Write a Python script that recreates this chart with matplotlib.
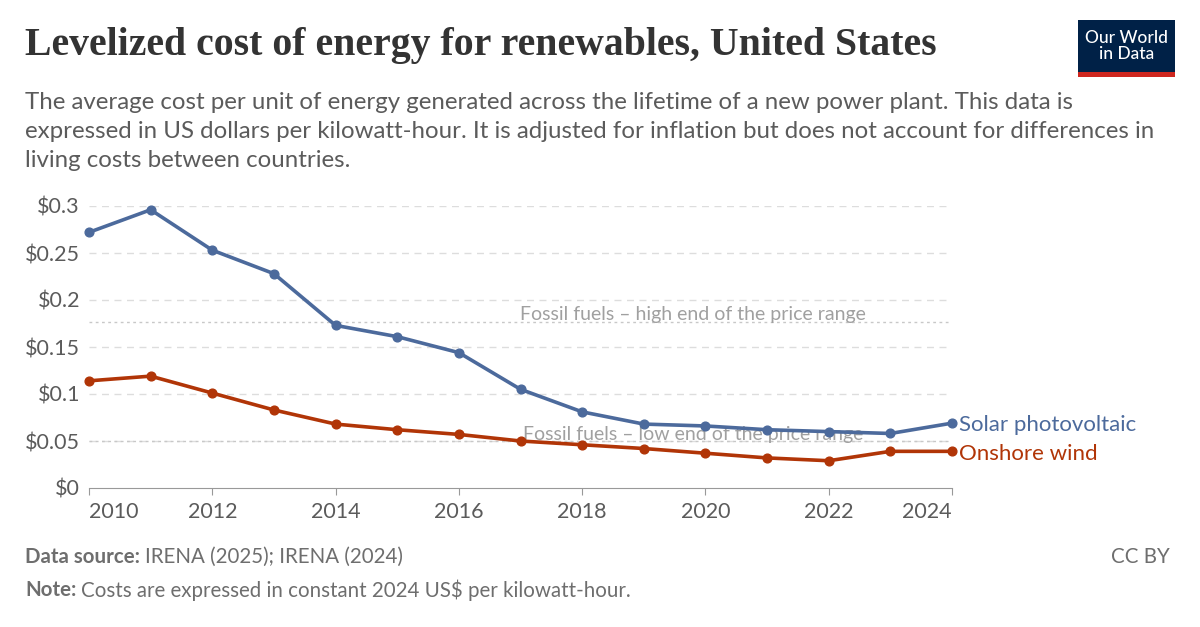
import matplotlib
matplotlib.use("Agg")
import matplotlib.pyplot as plt
from matplotlib.patches import Rectangle

years = list(range(2010, 2025))
solar_pv = [0.272, 0.296, 0.253, 0.228, 0.173, 0.161, 0.144, 0.105, 0.081, 0.068,
            0.066, 0.062, 0.060, 0.058, 0.069]
onshore_wind = [0.114, 0.119, 0.101, 0.083, 0.068, 0.062, 0.057, 0.050, 0.046, 0.042,
                0.037, 0.032, 0.029, 0.039, 0.039]
fossil_high = 0.177
fossil_low = 0.0495
y_ticks = [0, 0.05, 0.1, 0.15, 0.2, 0.25, 0.3]
y_labels = ["$0", "$0.05", "$0.1", "$0.15", "$0.2", "$0.25", "$0.3"]
x_ticks = [2010, 2012, 2014, 2016, 2018, 2020, 2022, 2024]

SOLAR = "#4c6a9c"
WIND = "#b13507"
GREY = "#5b5b5b"
W, H = 1200, 627

plt.rcParams["font.family"] = ["Lato", "DejaVu Sans"]

fig = plt.figure(figsize=(12, 6.27), dpi=100)
ax = fig.add_axes([89 / W, 1 - 488 / H, (952 - 89) / W, (488 - 206) / H])

ax.set_xlim(2010, 2024)
ax.set_ylim(0, 0.3)
for v in y_ticks[1:]:
    ax.axhline(v, color="#dddddd", linewidth=1, linestyle=(0, (5, 4)), zorder=0)
for v in (fossil_high, fossil_low):
    ax.axhline(v, color="#c8c8c8", linewidth=1, linestyle=(0, (2, 2.5)), zorder=1)
ax.text(2019.8, fossil_high + 0.0015, "Fossil fuels – high end of the price range",
        color="#a0a0a0", fontsize=14, ha="center", va="baseline", zorder=2)
ax.text(2019.8, fossil_low + 0.0015, "Fossil fuels – low end of the price range",
        color="#a0a0a0", fontsize=14, ha="center", va="baseline", zorder=2)

ax.plot(years, solar_pv, color=SOLAR, linewidth=2.6, marker="o", markersize=6.3,
        zorder=4, clip_on=False)
ax.plot(years, onshore_wind, color=WIND, linewidth=2.6, marker="o", markersize=6.3,
        zorder=4, clip_on=False)
ax.text(2024.12, solar_pv[-1] - 0.0025, "Solar photovoltaic", color=SOLAR, fontsize=16, va="center")
ax.text(2024.12, onshore_wind[-1] - 0.0025, "Onshore wind", color=WIND, fontsize=16, va="center")

for s in ("top", "right", "left"):
    ax.spines[s].set_visible(False)
ax.spines["bottom"].set_color("#999999")
ax.set_yticks(y_ticks)
ax.set_yticklabels(y_labels)
ax.tick_params(axis="y", length=0, pad=6.5, labelsize=15.5, labelcolor=GREY)
ax.set_xticks(x_ticks)
ax.set_xticklabels([str(x) for x in x_ticks])
ax.tick_params(axis="x", length=5, color="#999999", labelsize=15.5, labelcolor=GREY, pad=5)
xl = ax.get_xticklabels()
xl[0].set_horizontalalignment("left")
xl[-1].set_horizontalalignment("right")

fig.text(25 / W, 1 - 45 / H, "Levelized cost of energy for renewables, United States",
         family=["Liberation Serif", "DejaVu Serif"], fontweight="bold", fontsize=28.6,
         color="#333333", va="center")
subtitle = ("The average cost per unit of energy generated across the lifetime of a new power plant. This data is\n"
            "expressed in US dollars per kilowatt-hour. It is adjusted for inflation but does not account for differences in\n"
            "living costs between countries.")
fig.text(25 / W, 1 - 92 / H, subtitle, fontsize=17.3, color=GREY, va="top", linespacing=1.47)

# logo
fig.patches.append(Rectangle((1078 / W, 1 - 77 / H), 97 / W, 57 / H, transform=fig.transFigure,
                             facecolor="#002147", edgecolor="none"))
fig.patches.append(Rectangle((1078 / W, 1 - 77 / H), 97 / W, 5 / H, transform=fig.transFigure,
                             facecolor="#ce261e", edgecolor="none"))
fig.text(1126.5 / W, 1 - 46 / H, "Our World\nin Data", color="white", fontsize=12.5,
         ha="center", va="center", linespacing=1.05, fontweight="medium")

# footer
fig.canvas.draw()
r = fig.canvas.get_renderer()
FOOT = 14.8
t1 = fig.text(25 / W, 1 - 557 / H, "Data source:", fontsize=FOOT, color="#6e6e6e",
              fontweight="bold", va="center")
bb = t1.get_window_extent(r)
fig.text(bb.x1 / W + 5 / W, 1 - 557 / H, "IRENA (2025); IRENA (2024)", fontsize=FOOT,
         color="#6e6e6e", va="center")
t2 = fig.text(25 / W, 1 - 590 / H, "Note:", fontsize=FOOT, color="#6e6e6e",
              fontweight="bold", va="center")
bb = t2.get_window_extent(r)
fig.text(bb.x1 / W + 5 / W, 1 - 590 / H, "Costs are expressed in constant 2024 US$ per kilowatt-hour.",
         fontsize=FOOT, color="#6e6e6e", va="center")
fig.text(1170 / W, 1 - 557 / H, "CC BY", fontsize=FOOT, color="#6e6e6e", ha="right", va="center")

fig.savefig("out.png", dpi=100)
